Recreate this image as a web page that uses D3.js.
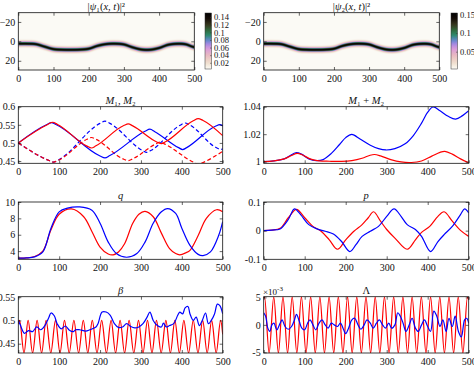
<!DOCTYPE html>
<html><head><meta charset="utf-8">
<script src="https://cdn.jsdelivr.net/npm/d3@7"></script>
<style>
body{margin:0;background:#fff}
svg{display:block}
svg text{font-family:"Liberation Serif","Times New Roman",serif}
</style>
</head><body>
<svg id="c" width="474" height="365"></svg>
<script>
// ---------------- DATA ----------------
const xTickVals = [0,100,200,300,400,500];

// heat-map soliton tracks (centre position vs time), peak and width
const hmTime    = [0,25,50,75,100,125,150,175,200,225,250,275,300,325,350,375,400,425,450,475,500];
const hmCenter1 = [2.4,2.4,2.9,5.5,8.0,8.6,8.7,8.5,7.6,4.6,2.8,2.4,3.2,6.2,8.4,8.6,6.8,3.6,2.5,3.0,6.0];
const hmCenter2 = [2.4,2.4,2.9,5.5,8.0,8.6,8.7,8.5,7.6,4.6,2.8,2.4,3.2,6.2,8.4,8.6,6.8,3.6,2.5,3.0,6.0];
const hmPeak  = [0.15, 0.155];
const hmWidth = [2.0, 2.0];
const cbTicks1 = [0.02,0.04,0.06,0.08,0.1,0.12,0.14];
const cbTicks2 = [0.05,0.1,0.15];

// M1, M2
const m1Blue = [[0,0.5],[70,0.551],[81,0.556],[92,0.551],[200,0.464],[212,0.4586],[224,0.465],[310,0.532],[322,0.538],[334,0.531],[392,0.487],[402,0.4816],[412,0.487],[482,0.546],[493,0.5505],[500,0.547]];
const m1Red  = [[0,0.5],[72,0.551],[84,0.557],[96,0.551],[168,0.491],[179,0.486],[190,0.492],[258,0.548],[269,0.5525],[280,0.547],[340,0.502],[350,0.498],[360,0.503],[428,0.561],[440,0.567],[452,0.562],[500,0.52]];
const m2Blue = [[0,0.5],[74,0.452],[86,0.447],[98,0.453],[200,0.554],[212,0.56],[224,0.554],[304,0.479],[314,0.474],[324,0.479],[396,0.549],[408,0.555],[420,0.549],[486,0.486],[496,0.482],[500,0.484]];
const m2Red  = [[0,0.5],[74,0.452],[86,0.447],[98,0.452],[168,0.51],[179,0.515],[190,0.51],[258,0.455],[269,0.451],[280,0.456],[338,0.498],[347,0.502],[356,0.498],[428,0.447],[440,0.441],[452,0.446],[500,0.477]];
const mTicks = [0.45,0.5,0.55,0.6];

// M1 + M2
const sumBlue = [[0,1.0],[25,1.0005],[50,1.002],[65,1.0045],[78,1.0065],[92,1.0055],[110,1.002],[128,1.0007],[145,1.0015],[165,1.006],[185,1.0125],[200,1.0175],[215,1.0198],[235,1.0165],[260,1.012],[280,1.0095],[298,1.0085],[320,1.0095],[345,1.013],[365,1.019],[385,1.028],[400,1.036],[413,1.0398],[430,1.037],[450,1.033],[468,1.031],[485,1.0335],[500,1.037]];
const sumRed  = [[0,1.0],[25,1.0005],[50,1.002],[68,1.0045],[82,1.006],[95,1.0048],[115,1.0018],[135,1.0006],[160,1.0003],[190,1.0002],[215,1.0008],[240,1.0025],[258,1.0045],[270,1.0052],[285,1.0042],[310,1.0015],[335,0.9998],[360,0.9994],[385,1.0005],[410,1.004],[430,1.0068],[442,1.0075],[460,1.0055],[480,1.002],[500,0.9992]];
const sumTicks = [1,1.02,1.04];

// q
const qBlue = [[0,3.15],[20,3.17],[40,3.3],[60,3.9],[80,6.8],[100,8.8],[120,9.25],[150,9.4],[180,9.0],[200,7.4],[220,5.1],[240,3.7],[265,3.25],[290,3.7],[310,5.1],[330,7.4],[350,8.8],[365,9.2],[385,8.6],[400,6.8],[420,4.7],[440,3.6],[452,3.45],[470,3.9],[490,5.9],[500,7.6]];
const qRed  = [[0,3.15],[20,3.17],[40,3.35],[60,4.0],[80,6.6],[100,8.5],[130,9.15],[160,8.2],[180,6.4],[200,4.5],[220,3.65],[232,3.55],[245,3.9],[260,4.9],[280,7.4],[295,8.5],[310,8.85],[330,8.2],[350,6.2],[370,4.3],[385,3.7],[395,3.55],[410,3.8],[420,4.1],[440,5.9],[460,8.0],[485,9.05],[500,8.8]];
const qTicks = [4,6,8,10];

// p
const pBlue = [[0,0],[20,0.002],[40,0.006],[60,0.039],[75,0.076],[90,0.056],[110,0.021],[130,0.006],[150,-0.002],[170,-0.012],[190,-0.038],[210,-0.073],[225,-0.049],[240,-0.02],[260,-0.002],[280,0.015],[300,0.05],[318,0.076],[335,0.05],[350,0.021],[370,0.004],[385,-0.02],[407,-0.073],[425,-0.038],[440,-0.014],[460,0.015],[480,0.056],[490,0.076],[500,0.062]];
const pRed  = [[0,0],[20,0.002],[40,0.008],[60,0.045],[80,0.074],[100,0.045],[120,0.015],[140,-0.002],[160,-0.032],[180,-0.065],[200,-0.032],[220,-0.002],[240,0.021],[255,0.045],[268,0.066],[285,0.033],[300,0.004],[320,-0.026],[350,-0.065],[370,-0.032],[385,-0.006],[405,0.015],[425,0.05],[440,0.066],[460,0.033],[480,0.001],[500,-0.02]];
const pTicks = [-0.1,0,0.1];

// beta
const betaBlue = [[0,0.5],[5,0.49],[10,0.479],[15,0.472],[25,0.478],[35,0.476],[45,0.486],[55,0.48],[65,0.489],[75,0.507],[80,0.516],[88,0.51],[95,0.493],[105,0.482],[115,0.488],[125,0.479],[135,0.476],[140,0.48],[150,0.48],[165,0.477],[175,0.48],[190,0.486],[195,0.493],[205,0.518],[215,0.518],[225,0.511],[235,0.493],[245,0.485],[255,0.486],[265,0.493],[275,0.487],[285,0.484],[295,0.486],[305,0.493],[315,0.507],[322,0.518],[330,0.5],[340,0.489],[350,0.486],[355,0.494],[362,0.486],[370,0.489],[380,0.493],[390,0.511],[395,0.518],[402,0.514],[408,0.527],[415,0.53],[420,0.514],[428,0.5],[435,0.507],[443,0.489],[450,0.5],[458,0.516],[465,0.493],[472,0.5],[480,0.514],[487,0.535],[493,0.532],[500,0.514]];
const betaRed = [[0,0.492],[3,0.5],[14,0.43],[24,0.5],[35,0.43],[46,0.5],[57,0.43],[68,0.5],[79.5,0.43],[91,0.5],[102,0.43],[113,0.5],[124.5,0.43],[136,0.5],[147.5,0.43],[159,0.5],[170,0.43],[181,0.5],[192.5,0.43],[204,0.5],[215.5,0.43],[227,0.5],[238,0.43],[249,0.5],[260,0.43],[271,0.5],[282.5,0.43],[294,0.5],[305,0.43],[316,0.5],[327,0.43],[338,0.5],[349.5,0.43],[361,0.5],[372,0.43],[383,0.5],[394,0.43],[405,0.5],[416.5,0.43],[428,0.5],[439.5,0.43],[451,0.5],[462,0.43],[473,0.5],[484,0.43],[495,0.5],[500,0.47]];
const betaTicks = [0.45,0.5,0.55];

// Lambda (x 1e-3)
const lamBlue = [[0,2.2],[5,1.5],[10,-0.6],[15,-1.2],[20,0],[25,0.3],[32,-0.9],[40,0.3],[45,0.9],[52,-0.3],[60,-0.8],[68,-0.3],[75,0.9],[80,1.9],[87,0.6],[93,-0.6],[100,-0.9],[107,0.3],[113,0.9],[120,0],[127,-0.9],[135,0.3],[142,0.9],[150,0],[157,-0.6],[165,0.3],[172,0],[180,-0.3],[187,0.3],[195,-0.9],[200,-1.6],[207,-0.6],[215,0.9],[222,1.2],[230,0],[237,-0.8],[245,0],[252,0.9],[260,0.3],[267,-0.6],[275,0.3],[282,0.9],[290,0],[297,-0.6],[305,0.3],[312,-0.6],[320,0],[327,2.2],[333,1.6],[340,0.3],[347,-1.2],[355,0],[362,1.2],[370,-0.6],[377,-1.2],[385,0],[392,0.9],[400,-0.3],[407,-1.2],[415,2.5],[422,1.6],[430,-0.3],[437,0.9],[445,-1.2],[452,1.2],[460,-0.3],[467,1.6],[475,-1.2],[482,-2.2],[490,0.9],[495,1.2],[500,0.3]];
const lamRed = [[0,4.9],[2,5.1],[13.2,-5.1],[24.5,5.1],[35.8,-5.1],[47,5.1],[58.2,-5.1],[69.5,5.1],[80.8,-5.1],[92,5.1],[103.2,-5.1],[114.5,5.1],[125.8,-5.1],[137,5.1],[148.2,-5.1],[159.5,5.1],[170.8,-5.1],[182,5.1],[193.2,-5.1],[204.5,5.1],[215.8,-5.1],[227,5.1],[238.2,-5.1],[249.5,5.1],[260.8,-5.1],[272,5.1],[283.2,-5.1],[294.5,5.1],[305.8,-5.1],[317,5.1],[328.2,-5.1],[339.5,5.1],[350.8,-5.1],[362,5.1],[373.2,-5.1],[384.5,5.1],[395.8,-5.1],[407,5.1],[418.2,-5.1],[429.5,5.1],[440.8,-5.1],[452,5.1],[463.2,-5.1],[474.5,5.1],[485.8,-5.1],[497,5.1],[500,4.5]];
const lamTicks = [-5,0,5];

// ---------------- DRAWING ----------------
const FONT = '"Liberation Serif", "Times New Roman", serif';
const BLUE = "#0000ff", RED = "#ff0000";
const svg = d3.select("#c");
let clipN = 0;

const L1 = {x0:18.3, x1:194.3}, L = {x0:18.3, x1:222.7};
const R1 = {x0:263.7, x1:439.3}, R = {x0:263.7, x1:468.7};
const rows = [[12.7,70],[106.7,163.3],[202,259.3],[296.7,353]];
const box = (c, r) => ({x0:c.x0, x1:c.x1, y0:rows[r][0], y1:rows[r][1]});

function makePanel(b, xDom, yDom, yTicks, yFmt, title) {
  const x = d3.scaleLinear().domain(xDom).range([b.x0, b.x1]);
  const y = d3.scaleLinear().domain(yDom).range([b.y1, b.y0]);
  const id = "clip" + (clipN++);
  svg.append("clipPath").attr("id", id).append("rect")
    .attr("x", b.x0).attr("y", b.y0).attr("width", b.x1 - b.x0).attr("height", b.y1 - b.y0);
  const gm = svg.append("g").attr("clip-path", `url(#${id})`);
  const finish = () => {
    const ga = svg.append("g");
    ga.append("g").attr("transform", `translate(0,${b.y1})`)
      .call(d3.axisBottom(x).tickValues(xTickVals).tickSize(-3).tickPadding(4.5).tickFormat(d3.format("d")));
    ga.append("g").attr("transform", `translate(0,${b.y0})`)
      .call(d3.axisTop(x).tickValues(xTickVals).tickSize(-3).tickFormat(""));
    ga.append("g").attr("transform", `translate(${b.x0},0)`)
      .call(d3.axisLeft(y).tickValues(yTicks).tickSize(-3).tickPadding(3).tickFormat(yFmt));
    ga.append("g").attr("transform", `translate(${b.x1},0)`)
      .call(d3.axisRight(y).tickValues(yTicks).tickSize(-3).tickFormat(""));
    ga.selectAll("g").attr("font-family", null).attr("font-size", null);
    ga.selectAll(".domain").remove();
    ga.selectAll(".tick line").attr("stroke", "#000").attr("stroke-width", 0.6);
    ga.selectAll(".tick text").attr("fill", "#111").style("font-family", FONT).style("font-size", "10px");
    svg.append("rect").attr("x", b.x0).attr("y", b.y0).attr("width", b.x1 - b.x0).attr("height", b.y1 - b.y0)
      .attr("fill", "none").attr("stroke", "#111").attr("stroke-width", 0.8);
    const t = svg.append("text").attr("x", (b.x0 + b.x1) / 2).attr("y", b.y0 - 3)
      .attr("text-anchor", "middle").style("font-family", FONT).style("font-size", "10.5px").attr("fill", "#111");
    title(t);
  };
  return {x, y, gm, finish};
}

function drawLine(p, data, color, dash, curve) {
  p.gm.append("path").datum(data)
    .attr("d", d3.line().x(d => p.x(d[0])).y(d => p.y(d[1])).curve(curve || d3.curveMonotoneX))
    .attr("fill", "none").attr("stroke", color).attr("stroke-width", 1.2)
    .attr("stroke-dasharray", dash || null).attr("stroke-linejoin", "round");
}

// colormap
const cmapPos = [0, 0.12, 0.25, 0.37, 0.45, 0.52, 0.6, 0.68, 0.78, 0.9, 1];
const cmapCol = ["#fbfaf5","#efdcca","#e8b8c2","#d898dc","#a088e0","#5c88c8","#2f8a70","#2e7040","#3a3a20","#150d08","#000000"];
function makeCmap(dom) {
  return d3.scaleLinear().domain(cmapPos.map(f => dom[0] + f * (dom[1] - dom[0]))).range(cmapCol).clamp(true);
}

function catmull(xs, ys) {
  return t => {
    const n = xs.length;
    let i = d3.bisectRight(xs, t) - 1;
    i = Math.max(0, Math.min(n - 2, i));
    const u = (t - xs[i]) / (xs[i + 1] - xs[i]);
    const p0 = ys[Math.max(0, i - 1)], p1 = ys[i], p2 = ys[i + 1], p3 = ys[Math.min(n - 1, i + 2)];
    return 0.5 * ((2 * p1) + (-p0 + p2) * u + (2 * p0 - 5 * p1 + 4 * p2 - p3) * u * u + (-p0 + 3 * p1 - 3 * p2 + p3) * u * u * u);
  };
}

function heatPanel(c, centers, peak, width, cbDom, cbTicks, cbX, title) {
  const b = box(c, 0);
  const p = makePanel(b, [0, 500], [29.5, -29.5], [-20, 0, 20], d3.format("d"), title);
  const cmap = makeCmap(cbDom);
  const ctr = catmull(hmTime, centers);
  const S = 3;
  const Wpx = Math.round((b.x1 - b.x0) * S), Hpx = Math.round((b.y1 - b.y0) * S);
  const cv = document.createElement("canvas");
  cv.width = Wpx; cv.height = Hpx;
  const ctx = cv.getContext("2d");
  const img = ctx.createImageData(Wpx, Hpx);
  for (let i = 0; i < Wpx; i++) {
    const t = p.x.invert(b.x0 + (i + 0.5) / S);
    const cc = ctr(t);
    for (let j = 0; j < Hpx; j++) {
      const xv = p.y.invert(b.y0 + (j + 0.5) / S);
      const ch = Math.cosh((xv - cc) / width);
      const v = peak / (ch * ch);
      const col = d3.rgb(cmap(v));
      const k = (j * Wpx + i) * 4;
      img.data[k] = col.r; img.data[k + 1] = col.g; img.data[k + 2] = col.b; img.data[k + 3] = 255;
    }
  }
  ctx.putImageData(img, 0, 0);
  p.gm.append("image").attr("href", cv.toDataURL()).attr("x", b.x0).attr("y", b.y0)
    .attr("width", b.x1 - b.x0).attr("height", b.y1 - b.y0).attr("preserveAspectRatio", "none");
  p.finish();
  // colorbar
  const cbY = d3.scaleLinear().domain(cbDom).range([69, 13]);
  const gid = "grad" + cbX;
  const grad = svg.append("defs").append("linearGradient").attr("id", gid)
    .attr("x1", 0).attr("y1", 1).attr("x2", 0).attr("y2", 0);
  d3.range(0, 1.0001, 0.05).forEach(f => {
    grad.append("stop").attr("offset", f).attr("stop-color", cmap(cbDom[0] + f * (cbDom[1] - cbDom[0])));
  });
  svg.append("rect").attr("x", cbX).attr("y", 13).attr("width", 6.5).attr("height", 56)
    .attr("fill", `url(#${gid})`).attr("stroke", "#333").attr("stroke-width", 0.5);
  const gcb = svg.append("g");
  cbTicks.forEach(v => {
    gcb.append("line").attr("x1", cbX + 6.5).attr("x2", cbX + 5).attr("y1", cbY(v)).attr("y2", cbY(v)).attr("stroke", "#333").attr("stroke-width", 0.5);
    gcb.append("text").attr("x", cbX + 9).attr("y", cbY(v)).attr("dy", "0.33em")
      .style("font-family", FONT).style("font-size", "8.5px").attr("fill", "#111").text(String(v));
  });
}

function mathTitle(parts) {
  return t => parts.forEach(([s, style]) => {
    const ts = t.append("tspan").text(s);
    if (style === "i") ts.style("font-style", "italic");
  });
}

heatPanel(L1, hmCenter1, hmPeak[0], hmWidth[0], [0.005, 0.152], cbTicks1, 205,
  mathTitle([["|", ""], ["ψ", "i"], ["₁(", ""], ["x", "i"], [", ", ""], ["t", "i"], [")|²", ""]]));
heatPanel(R1, hmCenter2, hmPeak[1], hmWidth[1], [0.005, 0.155], cbTicks2, 451,
  mathTitle([["|", ""], ["ψ", "i"], ["₂(", ""], ["x", "i"], [", ", ""], ["t", "i"], [")|²", ""]]));

// M1, M2
{
  const p = makePanel(box(L, 1), [0, 500], [0.4437, 0.6], mTicks, v => String(v),
    mathTitle([["M", "i"], ["₁", ""], [", ", ""], ["M", "i"], ["₂", ""]]));
  drawLine(p, m2Blue, BLUE, "4,2.5");
  drawLine(p, m2Red, RED, "4,2.5");
  drawLine(p, m1Blue, BLUE);
  drawLine(p, m1Red, RED);
  p.finish();
}
// M1 + M2
{
  const p = makePanel(box(R, 1), [0, 500], [0.9988, 1.04], sumTicks, v => String(v),
    mathTitle([["M", "i"], ["₁", ""], [" + ", ""], ["M", "i"], ["₂", ""]]));
  drawLine(p, sumBlue, BLUE, null, d3.curveCatmullRom);
  drawLine(p, sumRed, RED, null, d3.curveCatmullRom);
  p.finish();
}
// q
{
  const p = makePanel(box(L, 2), [0, 500], [3, 10], qTicks, v => String(v), mathTitle([["q", "i"]]));
  drawLine(p, qRed, RED, null, d3.curveCatmullRom);
  drawLine(p, qBlue, BLUE, null, d3.curveCatmullRom);
  p.finish();
}
// p
{
  const p = makePanel(box(R, 2), [0, 500], [-0.1, 0.1], pTicks, v => String(v), mathTitle([["p", "i"]]));
  drawLine(p, pRed, RED, null, d3.curveCatmullRom);
  drawLine(p, pBlue, BLUE, null, d3.curveCatmullRom);
  p.finish();
}
// beta
{
  const p = makePanel(box(L, 3), [0, 500], [0.43, 0.551], betaTicks, v => String(v), mathTitle([["β", "i"]]));
  drawLine(p, betaRed, RED);
  drawLine(p, betaBlue, BLUE, null, d3.curveCatmullRom);
  p.finish();
}
// Lambda
{
  const p = makePanel(box(R, 3), [0, 500], [-5.12, 5.12], lamTicks, v => String(v), mathTitle([["Λ", ""]]));
  drawLine(p, lamRed, RED);
  drawLine(p, lamBlue, BLUE, null, d3.curveCatmullRom);
  p.finish();
  const ex = svg.append("text").attr("x", 263).attr("y", 294.5).style("font-family", FONT).style("font-size", "9px").attr("fill", "#111");
  ex.append("tspan").text("×10");
  ex.append("tspan").attr("dy", -3.5).style("font-size", "7px").text("-3");
}
</script>
</body></html>
